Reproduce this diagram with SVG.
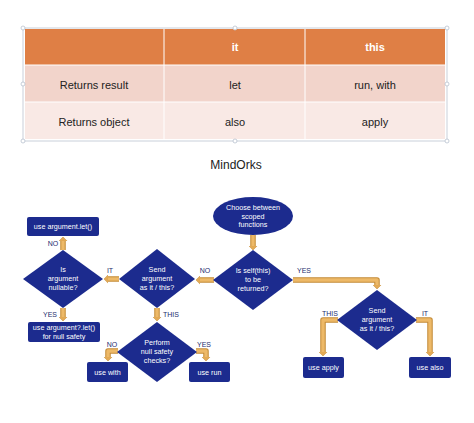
<svg xmlns="http://www.w3.org/2000/svg" width="474" height="423" viewBox="0 0 474 423">
<defs>
<style>
.cell{font-family:"Liberation Sans",Arial,sans-serif;font-size:11px;fill:#222;text-anchor:middle}
.hd{font-family:"Liberation Sans",Arial,sans-serif;font-size:11px;font-weight:bold;fill:#fff;text-anchor:middle}
.node{fill:#1C2B8E}
.nt{font-family:"Liberation Sans",Arial,sans-serif;font-size:7.2px;fill:#fff;text-anchor:middle}
.lbl{font-family:"Liberation Sans",Arial,sans-serif;font-size:7px;fill:#1E2D6E;text-anchor:middle}
.ao{fill:none;stroke:#C48B36;stroke-width:5.5;stroke-linejoin:round}
.ai{fill:none;stroke:#EDB968;stroke-width:3.4;stroke-linejoin:round}
.hdl{fill:#fff;stroke:#B8C2CF;stroke-width:0.8}
</style>
<marker id="ah" viewBox="0 0 5 10" refX="0.5" refY="5" markerWidth="4.5" markerHeight="9" orient="auto" markerUnits="userSpaceOnUse">
<path d="M0,0 L5,5 L0,10 z" fill="#E3AA55" stroke="#C48B36" stroke-width="0.6"/>
</marker>
</defs>
<rect width="474" height="423" fill="#fff"/>
<g id="table">
<rect x="23" y="28" width="424" height="113" fill="none" stroke="#C9D0DA" stroke-width="1"/>
<rect x="25" y="29" width="420" height="36" fill="#DF7F45"/>
<rect x="25" y="65" width="420" height="37" fill="#F2D4CB"/>
<rect x="25" y="102" width="420" height="37" fill="#F9E9E5"/>
<g stroke="#fff" stroke-width="1">
<line x1="164" y1="29" x2="164" y2="139"/>
<line x1="305" y1="29" x2="305" y2="139"/>
<line x1="25" y1="65" x2="445" y2="65"/>
<line x1="25" y1="102" x2="445" y2="102"/>
</g>
<text class="hd" x="235" y="51">it</text>
<text class="hd" x="375" y="51">this</text>
<text class="cell" x="94" y="89">Returns result</text>
<text class="cell" x="235" y="89">let</text>
<text class="cell" x="375" y="89">run, with</text>
<text class="cell" x="94" y="126">Returns object</text>
<text class="cell" x="235" y="126">also</text>
<text class="cell" x="375" y="126">apply</text>
<circle class="hdl" cx="23" cy="28" r="2"/>
<circle class="hdl" cx="235" cy="28" r="2"/>
<circle class="hdl" cx="447" cy="28" r="2"/>
<circle class="hdl" cx="23" cy="84" r="2"/>
<circle class="hdl" cx="447" cy="84" r="2"/>
<circle class="hdl" cx="23" cy="141" r="2"/>
<circle class="hdl" cx="235" cy="141" r="2"/>
<circle class="hdl" cx="447" cy="141" r="2"/>
</g>
<text x="236" y="169" font-family="'Liberation Sans',Arial,sans-serif" font-size="12" fill="#222" text-anchor="middle">MindOrks</text>
<g id="connectors">
<path class="ao" d="M253,235 V246" marker-end="url(#ah)"/><path class="ai" d="M253,235 V246"/>
<path class="ao" d="M214,280 H200" marker-end="url(#ah)"/><path class="ai" d="M214,280 H200"/>
<path class="ao" d="M119,279 H108" marker-end="url(#ah)"/><path class="ai" d="M119,279 H108"/>
<path class="ao" d="M63,250 V241" marker-end="url(#ah)"/><path class="ai" d="M63,250 V241"/>
<path class="ao" d="M63,308 V317" marker-end="url(#ah)"/><path class="ai" d="M63,308 V317"/>
<path class="ao" d="M157,308 V317" marker-end="url(#ah)"/><path class="ai" d="M157,308 V317"/>
<path class="ao" d="M118,351 H108 V357" marker-end="url(#ah)"/><path class="ai" d="M118,351 H108 V357"/>
<path class="ao" d="M196,351 H206 V357" marker-end="url(#ah)"/><path class="ai" d="M196,351 H206 V357"/>
<path class="ao" d="M293,280 H377 V285" marker-end="url(#ah)"/><path class="ai" d="M293,280 H377 V285"/>
<path class="ao" d="M338,320 H323 V352" marker-end="url(#ah)"/><path class="ai" d="M338,320 H323 V352"/>
<path class="ao" d="M416,320 H430 V352" marker-end="url(#ah)"/><path class="ai" d="M416,320 H430 V352"/>
<text class="lbl" x="205" y="273">NO</text>
<text class="lbl" x="110" y="273">IT</text>
<text class="lbl" x="53" y="246">NO</text>
<text class="lbl" x="50" y="317">YES</text>
<text class="lbl" x="171" y="317">THIS</text>
<text class="lbl" x="112" y="347">NO</text>
<text class="lbl" x="204" y="347">YES</text>
<text class="lbl" x="304" y="273">YES</text>
<text class="lbl" x="330" y="316">THIS</text>
<text class="lbl" x="425" y="316">IT</text>
</g>
<g id="start">
<ellipse class="node" cx="253" cy="216" rx="40" ry="19"/>
<text class="nt" x="253" y="210">Choose between</text>
<text class="nt" x="253" y="218.5">scoped</text>
<text class="nt" x="253" y="227">functions</text>
</g>
<g id="self">
<polygon class="node" points="253,250 293,280 253,310 213,280"/>
<text class="nt" x="253" y="273">Is self(this)</text>
<text class="nt" x="253" y="282">to be</text>
<text class="nt" x="253" y="291">returned?</text>
</g>
<g id="send1">
<polygon class="node" points="157,249 195,279 157,308 119,279"/>
<text class="nt" x="157" y="272">Send</text>
<text class="nt" x="157" y="281">argument</text>
<text class="nt" x="157" y="290">as it / this?</text>
</g>
<g id="nullable">
<polygon class="node" points="63,250 103,279 63,308 23,279"/>
<text class="nt" x="63" y="272">Is</text>
<text class="nt" x="63" y="281">argument</text>
<text class="nt" x="63" y="290">nullable?</text>
</g>
<g id="let">
<rect class="node" x="27" y="217" width="72" height="19" rx="2"/>
<text class="nt" x="63" y="229">use argument.let()</text>
</g>
<g id="letsafe">
<rect class="node" x="28" y="322" width="72" height="20" rx="2"/>
<text class="nt" x="64" y="330">use argument?.let()</text>
<text class="nt" x="64" y="338.5">for null safety</text>
</g>
<g id="perform">
<polygon class="node" points="157,322 197,352 157,382 117,352"/>
<text class="nt" x="157" y="345">Perform</text>
<text class="nt" x="157" y="354">null safety</text>
<text class="nt" x="157" y="363">checks?</text>
</g>
<g id="with">
<rect class="node" x="87" y="362" width="41" height="20" rx="2"/>
<text class="nt" x="107.5" y="374.5">use with</text>
</g>
<g id="run">
<rect class="node" x="189" y="362" width="41" height="20" rx="2"/>
<text class="nt" x="209.5" y="374.5">use run</text>
</g>
<g id="send2">
<polygon class="node" points="377,290 417,320 377,350 337,320"/>
<text class="nt" x="377" y="313">Send</text>
<text class="nt" x="377" y="322">argument</text>
<text class="nt" x="377" y="331">as it / this?</text>
</g>
<g id="apply">
<rect class="node" x="303" y="357" width="41" height="21" rx="2"/>
<text class="nt" x="323.5" y="370">use apply</text>
</g>
<g id="also">
<rect class="node" x="409" y="357" width="42" height="21" rx="2"/>
<text class="nt" x="430" y="370">use also</text>
</g>
</svg>
